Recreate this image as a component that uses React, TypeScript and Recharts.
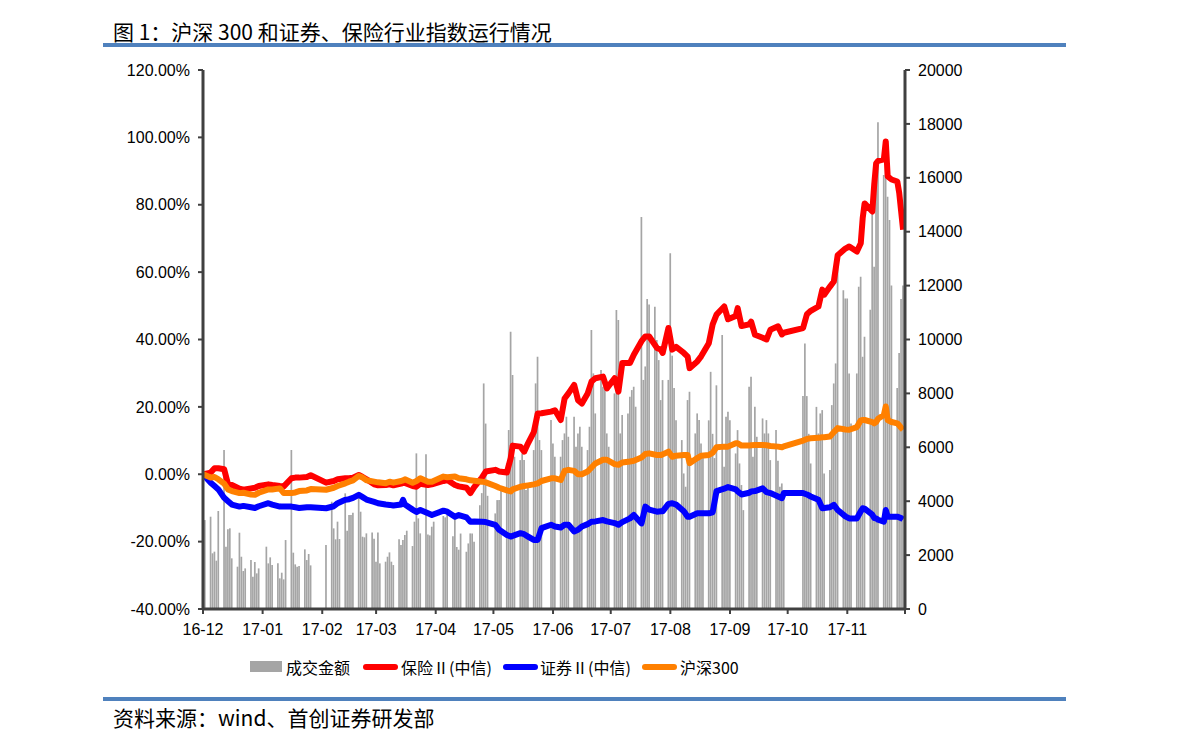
import { ComposedChart, Bar, Line, XAxis, YAxis } from 'recharts'

// trading days per month (day of month)
const monthDays: [string, number[]][] = [
  ['2016-12', [1, 2, 5, 6, 7, 8, 9, 12, 13, 14, 15, 16, 19, 20, 21, 22, 23, 26, 27, 28, 29, 30]],
  ['2017-01', [3, 4, 5, 6, 9, 10, 11, 12, 13, 16, 17, 18, 19, 20, 23, 24, 25, 26]],
  ['2017-02', [3, 6, 7, 8, 9, 10, 13, 14, 15, 16, 17, 20, 21, 22, 23, 24, 27, 28]],
  ['2017-03', [1, 2, 3, 6, 7, 8, 9, 10, 13, 14, 15, 16, 17, 20, 21, 22, 23, 24, 27, 28, 29, 30, 31]],
  ['2017-04', [5, 6, 7, 10, 11, 12, 13, 14, 17, 18, 19, 20, 21, 24, 25, 26, 27, 28]],
  ['2017-05', [2, 3, 4, 5, 8, 9, 10, 11, 12, 15, 16, 17, 18, 19, 22, 23, 24, 25, 26, 31]],
  ['2017-06', [1, 2, 5, 6, 7, 8, 9, 12, 13, 14, 15, 16, 19, 20, 21, 22, 23, 26, 27, 28, 29, 30]],
  ['2017-07', [3, 4, 5, 6, 7, 10, 11, 12, 13, 14, 17, 18, 19, 20, 21, 24, 25, 26, 27, 28, 31]],
  ['2017-08', [1, 2, 3, 4, 7, 8, 9, 10, 11, 14, 15, 16, 17, 18, 21, 22, 23, 24, 25, 28, 29, 30, 31]],
  ['2017-09', [1, 4, 5, 6, 7, 8, 11, 12, 13, 14, 15, 18, 19, 20, 21, 22, 25, 26, 27, 28, 29]],
  ['2017-10', [9, 10, 11, 12, 13, 16, 17, 18, 19, 20, 23, 24, 25, 26, 27, 30, 31]],
  ['2017-11', [1, 2, 3, 6, 7, 8, 9, 10, 13, 14, 15, 16, 17, 20, 21, 22, 23, 24, 27, 28, 29, 30]],
]

// 成交金额, one value per trading day
const turnover = [
  // 2016-12
  3000, 3300, 3425, 2066, 2128, 1793, 3636, 5900, 2313, 2956, 2994, 1880, 1570, 2831, 1940, 1409, 1507, 1817, 1200, 1743, 1322, 1507,
  // 2017-01
  2312, 1693, 1916, 1631, 1693, 1137, 1347, 1099, 2559, 5900, 2090, 1656, 1570, 1594, 2213, 1817, 2040, 1619,
  // 2017-02
  2374, 3981, 2992, 2585, 3241, 2596, 4291, 2905, 3487, 3487, 3573, 4291, 3610, 2683, 2660, 2806, 2843, 2609,
  // 2017-03
  1755, 2843, 1693, 1755, 1940, 2101, 1755, 1631, 2584, 2374, 2559, 2746, 2905, 2336, 3240, 5775, 3363, 2806, 5740, 2769, 2732, 3054, 3240,
  // 2017-04
  3450, 3400, 3500, 2700, 3400, 2300, 2200, 2800, 2124, 2433, 2805, 2805, 2495, 3850, 4300, 8370, 6880, 4200,
  // 2017-05
  3547, 4041, 4041, 4412, 5402, 6640, 10288, 8680, 5650, 5525, 5773, 5525, 4412, 4660, 5897, 8371, 9360, 6268, 5897, 7010,
  // 2017-06
  6144, 5650, 5650, 6268, 6515, 7134, 6391, 7134, 6020, 6515, 6762, 6020, 5897, 6762, 10350, 8742, 7257, 8866, 8247, 8618, 6515, 6020,
  // 2017-07
  8000, 11090, 10720, 6515, 7200, 7257, 7876, 8123, 8247, 7505, 14550, 8500, 9000, 11500, 11300, 11216, 9978, 9236, 7752, 8494, 8500,
  // 2017-08
  13200, 9400, 8200, 7000, 6268, 5030, 4536, 7752, 8061, 6515, 7257, 7010, 6144, 5650, 7000, 8800, 6500, 5600, 8300, 10170, 5277, 7133, 7318,
  // 2017-09
  7000, 5772, 6638, 5401, 4600, 3669, 8246, 8617, 5648, 7504, 6390, 7071, 6514, 7009, 6514, 5524, 6638, 5500, 4535, 4659, 4411,
  // 2017-10
  7900, 9850, 7900, 6500, 5400, 7500, 6514, 7256, 7380, 5030, 5154, 7565, 8369, 9112, 12823, 11830, 11520,
  // 2017-11
  11520, 8740, 6885, 8740, 11957, 12328, 9359, 10101, 11100, 14680, 12700, 16160, 18060, 16100, 16700, 15300, 14430, 12000, 8200, 9500, 11500, 12000,
]

// index returns (%) sampled on these dates
const lineDates = [
  '2016-12-01', '2016-12-05', '2016-12-07', '2016-12-09', '2016-12-12', '2016-12-14', '2016-12-16', '2016-12-20', '2016-12-22', '2016-12-26', '2016-12-28', '2016-12-30',
  '2017-01-04', '2017-01-06', '2017-01-10', '2017-01-12', '2017-01-16', '2017-01-18', '2017-01-20', '2017-01-24', '2017-01-26',
  '2017-02-03', '2017-02-07', '2017-02-09', '2017-02-13', '2017-02-15', '2017-02-17', '2017-02-20', '2017-02-22', '2017-02-24', '2017-02-28',
  '2017-03-02', '2017-03-06', '2017-03-08', '2017-03-10', '2017-03-14', '2017-03-15', '2017-03-16', '2017-03-20', '2017-03-22', '2017-03-24', '2017-03-28', '2017-03-30',
  '2017-04-05', '2017-04-07', '2017-04-11', '2017-04-13', '2017-04-17', '2017-04-19', '2017-04-21', '2017-04-25', '2017-04-27',
  '2017-05-02', '2017-05-04', '2017-05-08', '2017-05-10', '2017-05-11', '2017-05-15', '2017-05-17', '2017-05-19', '2017-05-22', '2017-05-24', '2017-05-26', '2017-05-31',
  '2017-06-02', '2017-06-05', '2017-06-07', '2017-06-09', '2017-06-12', '2017-06-14', '2017-06-16', '2017-06-19', '2017-06-21', '2017-06-23', '2017-06-27', '2017-06-29',
  '2017-07-03', '2017-07-05', '2017-07-07', '2017-07-11', '2017-07-13', '2017-07-17', '2017-07-19', '2017-07-21', '2017-07-25', '2017-07-27', '2017-07-28', '2017-07-31',
  '2017-08-02', '2017-08-04', '2017-08-08', '2017-08-10', '2017-08-11', '2017-08-15', '2017-08-17', '2017-08-21', '2017-08-23', '2017-08-25', '2017-08-29', '2017-08-31',
  '2017-09-04', '2017-09-05', '2017-09-07', '2017-09-11', '2017-09-12', '2017-09-14', '2017-09-18', '2017-09-20', '2017-09-22', '2017-09-26', '2017-09-28', '2017-09-29',
  '2017-10-09', '2017-10-11', '2017-10-13', '2017-10-17', '2017-10-19', '2017-10-20', '2017-10-23', '2017-10-25', '2017-10-27', '2017-10-31',
  '2017-11-02', '2017-11-06', '2017-11-08', '2017-11-09', '2017-11-10', '2017-11-14', '2017-11-15', '2017-11-16', '2017-11-17', '2017-11-20', '2017-11-21', '2017-11-22', '2017-11-24', '2017-11-27', '2017-11-28', '2017-11-29', '2017-11-30',
]

const insurance = [
  0, 0.5, 1.8, 1.8, 1.5, -3.0, -3.2, -4.3, -4.6, -4.2, -4.0, -3.5,
  -3.0, -3.2, -3.5, -3.6, -1.2, -1.0, -1.0, -0.8, -0.3,
  -2.5, -2.0, -1.5, -1.2, -1.2, -1.0, -0.2, -0.8, -1.5, -3.0,
  -3.3, -3.2, -3.0, -3.3, -2.8, -2.6, -2.6, -3.5, -3.7, -2.8, -3.2, -3.0,
  -2.0, -1.7, -3.2, -3.6, -4.0, -5.6, -3.8, -1.0, 0.8,
  1.3, 0.8, 0.5, 4.8, 8.5, 8.2, 6.7, 9.2, 12.5, 18.0, 18.1, 18.6,
  19.0, 16.1, 22.5, 24.0, 26.5, 22.0, 21.0, 24.0, 27.5, 28.5, 29.0, 25.5,
  28.5, 24.5, 33.0, 33.0, 35.5, 39.5, 40.9, 40.9, 37.5, 37.0, 36.0, 43.4,
  37.0, 37.8, 36.0, 34.9, 31.5, 33.5, 35.0, 38.9, 44.5, 47.4, 49.8, 46.0,
  47.0, 49.3, 44.0, 44.5, 45.3, 41.4, 40.5, 40.0, 42.9, 43.9, 41.5, 42.0,
  43.4, 47.5, 48.5, 49.8, 54.8, 53.3, 55.7, 57.2, 65.0, 67.0,
  67.6, 66.1, 68.6, 76.0, 80.4, 78.0, 86.0, 92.3, 93.0, 93.5, 98.8, 88.4, 87.5, 86.9, 83.5, 78.0, 72.6,
]

const securities = [
  0, -2.5, -3.5, -4.5, -7.0, -8.0, -9.0, -9.6, -9.4, -9.8, -10.0, -9.5,
  -8.6, -9.0, -9.6, -9.6, -9.6, -9.8, -10.0, -9.8, -9.8,
  -10.1, -9.5, -8.6, -7.6, -7.4, -7.0, -6.1, -6.8, -7.5, -8.2,
  -8.6, -9.0, -9.1, -9.3, -9.0, -7.6, -9.0, -10.5, -11.2, -10.6, -11.6, -12.1,
  -10.8, -11.1, -12.6, -12.1, -12.8, -14.1, -14.0, -14.1, -14.2,
  -15.0, -16.5, -18.0, -18.5, -18.3, -17.5, -17.8, -18.5, -19.5, -19.5, -16.0, -15.0,
  -15.5, -15.8, -15.0, -15.0, -17.0, -16.5, -15.5, -14.8, -14.1, -14.0, -13.6, -14.0,
  -14.5, -15.0, -14.2, -13.1, -12.1, -14.6, -9.6, -10.5, -11.1, -11.0, -11.0, -8.8,
  -8.6, -9.0, -11.0, -12.6, -12.6, -11.6, -11.6, -11.6, -11.3, -5.0, -4.3, -3.8,
  -4.5, -5.1, -6.0, -5.5, -5.1, -5.0, -4.2, -5.3, -5.6, -6.6, -7.1, -5.6,
  -5.6, -6.0, -6.6, -7.6, -10.1, -10.0, -9.8, -9.1, -10.6, -12.5,
  -13.1, -13.1, -11.0, -10.1, -10.2, -12.0, -13.0, -13.1, -13.5, -14.1, -10.6, -12.6, -12.6, -12.6, -12.8, -13.0, -13.4,
]

const csi300 = [
  0, -1.0, -0.8, -1.5, -2.8, -4.5, -5.0, -5.6, -5.5, -6.0, -6.1, -5.5,
  -4.5, -4.5, -4.2, -5.6, -5.6, -5.4, -5.0, -4.8, -4.4,
  -4.6, -4.0, -3.5, -2.7, -2.2, -1.8, -0.5, -1.0, -1.8, -2.2,
  -2.4, -2.7, -2.2, -2.5, -2.0, -1.8, -1.5, -2.5, -2.0, -1.2, -2.2, -2.2,
  -0.7, -0.9, -0.7, -1.2, -1.5, -1.8, -1.9, -2.2, -2.4,
  -3.5, -4.0, -4.8, -5.1, -4.5, -3.7, -3.5, -3.3, -3.0, -2.7, -2.0, -1.2,
  -1.2, -1.7, 1.0, 1.3, 1.0, 0.0, 0.0, 0.8, 2.0, 3.2, 4.3, 4.3,
  3.0, 2.8, 3.5, 3.8, 4.0, 5.0, 6.0, 6.2, 5.7, 5.7, 5.9, 6.7,
  5.2, 5.5, 5.7, 5.7, 3.3, 4.8, 5.5, 5.7, 6.4, 8.0, 8.2, 8.2,
  9.2, 9.2, 8.5, 8.5, 8.6, 8.7, 8.7, 8.6, 8.4, 8.2, 8.0, 8.3,
  10.0, 10.5, 10.7, 10.8, 11.0, 11.0, 11.2, 12.5, 13.7, 13.3,
  13.2, 14.0, 16.0, 16.1, 16.1, 15.5, 15.1, 15.5, 16.5, 17.6, 20.1, 16.1, 15.5, 15.1, 14.5, 13.8, 13.2,
]

const monthStarts = [
  '2016-12-01', '2017-01-01', '2017-02-01', '2017-03-01', '2017-04-01', '2017-05-01', '2017-06-01',
  '2017-07-01', '2017-08-01', '2017-09-01', '2017-10-01', '2017-11-01', '2017-12-01',
]
const monthLabels = ['16-12', '17-01', '17-02', '17-03', '17-04', '17-05', '17-06', '17-07', '17-08', '17-09', '17-10', '17-11', '']
const pctTicks = [-40, -20, 0, 20, 40, 60, 80, 100, 120]
const amountTicks = [0, 2000, 4000, 6000, 8000, 10000, 12000, 14000, 16000, 18000, 20000]

interface Row {
  t: number
  amount?: number
  ins?: number
  sec?: number
  hs?: number
}

const origin = Date.UTC(2016, 11, 1)
const dayOf = (s: string) => {
  const [y, m, d] = s.split('-').map(Number)
  return Math.round((Date.UTC(y, m - 1, d) - origin) / 86400000)
}

const rows = new Map<number, Row>()
let k = 0
monthDays.forEach(([ym, days]) => {
  days.forEach((d) => {
    const t = dayOf(`${ym}-${String(d).padStart(2, '0')}`)
    rows.set(t, { t, amount: turnover[k++] })
  })
})
lineDates.forEach((s, i) => {
  const t = dayOf(s)
  const r = rows.get(t) ?? { t }
  r.ins = insurance[i]
  r.sec = securities[i]
  r.hs = csi300[i]
  rows.set(t, r)
})
const data = [...rows.values()].sort((a, b) => a.t - b.t)

const tickDays = monthStarts.map(dayOf)
const labelOf = (v: number) => monthLabels[tickDays.indexOf(v)] ?? ''

const axisColor = '#404040'
const tickFont = { fill: '#000', fontSize: 16, fontFamily: '"Liberation Sans", Arial, sans-serif' }
const cjk = '"Noto Sans CJK SC", "Noto Sans", sans-serif'
const rule = '#4F81BD'

const legendItems = [
  { label: '成交金额', color: '#A5A5A5', x: 250, textX: 286, bar: true },
  { label: '保险Ⅱ(中信)', color: '#FF0000', x: 363, textX: 401 },
  { label: '证券Ⅱ(中信)', color: '#0000FF', x: 503, textX: 540 },
  { label: '沪深300', color: '#FF8000', x: 642, textX: 680 },
]

export default function App() {
  return (
    <div style={{ position: 'relative', width: 1191, height: 749, background: '#fff', fontFamily: cjk }}>
      <style>{'body{margin:0}'}</style>
      <div style={{ position: 'absolute', left: 113, top: 19, fontSize: 21, lineHeight: '24px', color: '#000', whiteSpace: 'pre' }}>
        图 1：沪深 300 和证券、保险行业指数运行情况
      </div>
      <div style={{ position: 'absolute', left: 103, top: 43, width: 963, height: 4, background: rule }} />

      <div style={{ position: 'absolute', left: 0, top: 0 }}>
        <ComposedChart width={1191} height={749} data={data} margin={{ top: 70, right: 0, bottom: 110, left: 0 }}>
          <XAxis
            type="number" dataKey="t" domain={[0, 365]} ticks={tickDays} interval={0}
            tickFormatter={labelOf} height={30} tickSize={5} tickMargin={10}
            axisLine={{ stroke: axisColor, strokeWidth: 3 }} tickLine={{ stroke: axisColor, strokeWidth: 2 }}
            tick={tickFont} allowDataOverflow
          />
          <YAxis
            yAxisId="pct" domain={[-40, 120]} ticks={pctTicks} interval={0} width={203}
            tickFormatter={(v: number) => `${v.toFixed(2)}%`} tickSize={5} tickMargin={8}
            axisLine={{ stroke: axisColor, strokeWidth: 3 }} tickLine={{ stroke: axisColor, strokeWidth: 2 }}
            tick={tickFont}
          />
          <YAxis
            yAxisId="amt" orientation="right" domain={[0, 20000]} ticks={amountTicks} interval={0} width={286}
            tickSize={5} tickMargin={8}
            axisLine={{ stroke: axisColor, strokeWidth: 3 }} tickLine={{ stroke: axisColor, strokeWidth: 2 }}
            tick={{ ...tickFont, textAnchor: 'start' }}
          />
          <Bar yAxisId="amt" dataKey="amount" fill="#A5A5A5" barSize={1.7} isAnimationActive={false} />
          <Line yAxisId="pct" dataKey="ins" type="linear" stroke="#FF0000" strokeWidth={6} strokeLinejoin="round" dot={false} connectNulls isAnimationActive={false} />
          <Line yAxisId="pct" dataKey="sec" type="linear" stroke="#0000FF" strokeWidth={6} strokeLinejoin="round" dot={false} connectNulls isAnimationActive={false} />
          <Line yAxisId="pct" dataKey="hs" type="linear" stroke="#FF8000" strokeWidth={6} strokeLinejoin="round" dot={false} connectNulls isAnimationActive={false} />
        </ComposedChart>
      </div>

      {legendItems.map((it) => (
        <div key={it.label}>
          <div
            style={{
              position: 'absolute', left: it.x, top: it.bar ? 661 : 664,
              width: it.bar ? 32 : 35, height: it.bar ? 11 : 6,
              background: it.color, borderRadius: it.bar ? 0 : 3,
            }}
          />
          <div style={{ position: 'absolute', left: it.textX, top: 656, fontSize: 16, lineHeight: '22px', color: '#000', whiteSpace: 'nowrap' }}>
            {it.label}
          </div>
        </div>
      ))}

      <div style={{ position: 'absolute', left: 103, top: 697, width: 963, height: 4, background: rule }} />
      <div style={{ position: 'absolute', left: 113, top: 705, fontSize: 21, lineHeight: '24px', color: '#000', whiteSpace: 'nowrap' }}>
        资料来源：wind、首创证券研发部
      </div>
    </div>
  )
}
